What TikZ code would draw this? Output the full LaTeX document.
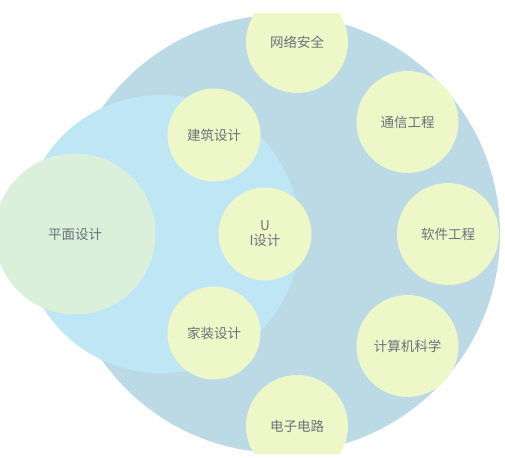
\documentclass[tikz,border=0pt]{standalone}
\usepackage{fontspec}
\newfontfamily\cjk{Noto Sans CJK SC}
\definecolor{outerblue}{RGB}{188,218,230}
\definecolor{innerblue}{RGB}{190,230,245}
\definecolor{greenfill}{RGB}{218,240,218}
\definecolor{bubblefill}{RGB}{238,247,200}
\definecolor{labelgray}{RGB}{105,115,120}
\begin{document}
\begin{tikzpicture}[x=1pt,y=-1pt,
  disc/.style={circle, inner sep=0pt, outer sep=0pt, draw=none},
  lbl/.style={font=\cjk\fontsize{13.5}{15}\selectfont, text=labelgray, align=center},
  bigbubble/.style={disc, lbl, fill=bubblefill, minimum size=102pt},
  smallbubble/.style={disc, lbl, fill=bubblefill, minimum size=93pt}]
\useasboundingbox (0,0) rectangle (505,457);
\begin{scope}
\clip (0,14) rectangle (505,453);
\node[disc, fill=outerblue, minimum size=438pt] (outer) at (281,234) {};
\node[disc, fill=innerblue, minimum size=278pt] (inner) at (161,234) {};
\node[disc, lbl, fill=greenfill, minimum size=161pt] (pingmian) at (75,234) {平面设计};
\node[bigbubble] (wangluo) at (297,42) {网络安全};
\node[bigbubble] (tongxin) at (407.5,122) {通信工程};
\node[bigbubble] (ruanjian) at (448,234) {软件工程};
\node[bigbubble] (jisuanji) at (407.5,346) {计算机科学};
\node[bigbubble] (dianzi) at (297,426) {电子电路};
\node[smallbubble] (jianzhu) at (214,135) {建筑设计};
\node[smallbubble] (jiazhuang) at (214,333) {家装设计};
\node[smallbubble] (ui) at (265,234) {U\\I设计};
\end{scope}
\end{tikzpicture}
\end{document}
